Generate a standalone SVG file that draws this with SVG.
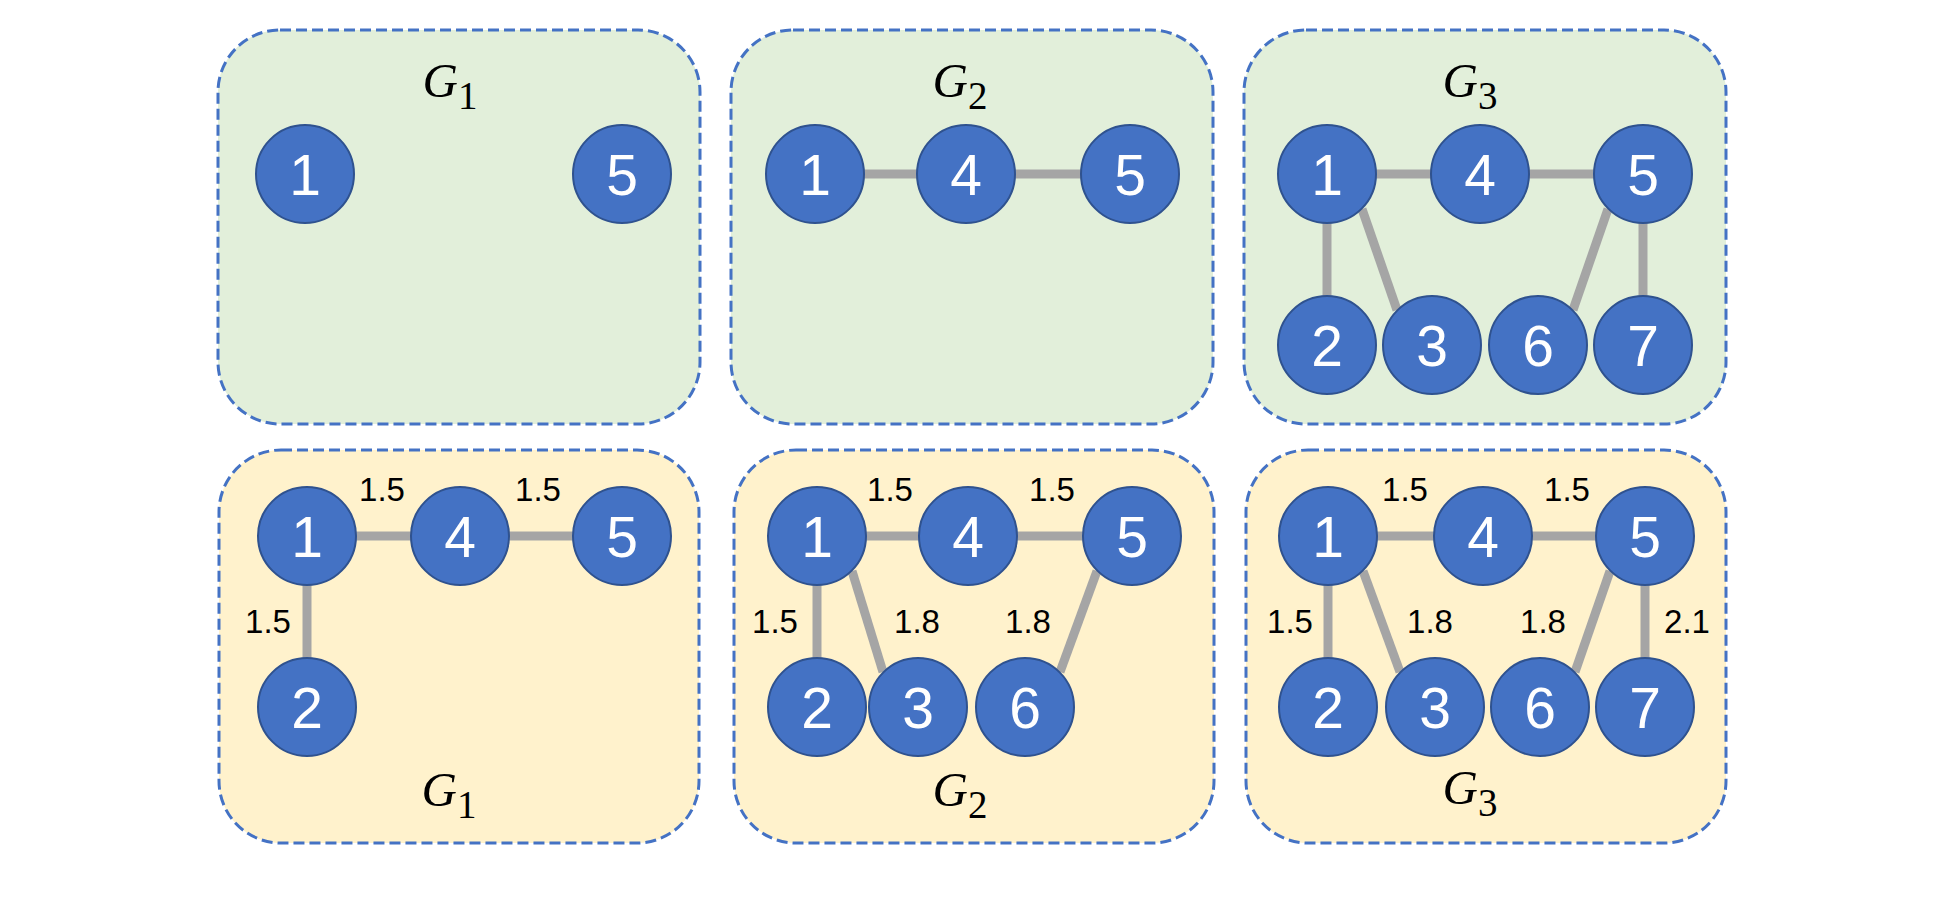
<svg xmlns="http://www.w3.org/2000/svg" width="1956" height="912" viewBox="0 0 1956 912">
<style>
.pg{fill:#E2EFDA;stroke:#4472C4;stroke-width:3;stroke-dasharray:11 5}
.py{fill:#FFF2CC;stroke:#4472C4;stroke-width:3;stroke-dasharray:11 5}
.n circle{fill:#4472C4;stroke:#2F528F;stroke-width:2}
.n text{fill:#FFFFFF;font-family:"Liberation Sans","Open Sans",sans-serif;font-size:57px;text-anchor:middle}
.e line{stroke:#A5A5A5;stroke-width:9}
.w{fill:#000;font-family:"Liberation Sans","Open Sans",sans-serif;font-size:33px;text-anchor:middle}
.g{fill:#000;font-family:"Liberation Serif","DejaVu Serif",serif;font-size:49px;text-anchor:middle}
.g .s{font-size:39px;font-style:normal}
</style>
<rect width="1956" height="912" fill="#FFFFFF"/>
<!-- panels -->
<g id="panels">
<rect id="panel-top-1" class="pg" x="218" y="30" width="482" height="394" rx="62"/>
<rect id="panel-top-2" class="pg" x="731" y="30" width="482" height="394" rx="62"/>
<rect id="panel-top-3" class="pg" x="1244" y="30" width="482" height="394" rx="62"/>
<rect id="panel-bot-1" class="py" x="219" y="450" width="480" height="393" rx="62"/>
<rect id="panel-bot-2" class="py" x="734" y="450" width="480" height="393" rx="62"/>
<rect id="panel-bot-3" class="py" x="1246" y="450" width="480" height="393" rx="62"/>
</g>
<!-- titles -->
<g id="titles">
<text class="g" x="450" y="97"><tspan font-style="italic">G</tspan><tspan class="s" dy="12">1</tspan></text>
<text class="g" x="960" y="97"><tspan font-style="italic">G</tspan><tspan class="s" dy="12">2</tspan></text>
<text class="g" x="1470" y="97"><tspan font-style="italic">G</tspan><tspan class="s" dy="12">3</tspan></text>
<text class="g" x="449" y="806"><tspan font-style="italic">G</tspan><tspan class="s" dy="12">1</tspan></text>
<text class="g" x="960" y="806"><tspan font-style="italic">G</tspan><tspan class="s" dy="12">2</tspan></text>
<text class="g" x="1470" y="804"><tspan font-style="italic">G</tspan><tspan class="s" dy="12">3</tspan></text>
</g>
<!-- connectors -->
<g id="connectors" class="e">
<line x1="815" y1="174" x2="966" y2="174"/>
<line x1="966" y1="174" x2="1130" y2="174"/>
<line x1="1327" y1="174" x2="1480" y2="174"/>
<line x1="1480" y1="174" x2="1643" y2="174"/>
<line x1="1327" y1="174" x2="1327" y2="345"/>
<line x1="1362" y1="209" x2="1397" y2="310"/>
<line x1="1608" y1="209" x2="1573" y2="310"/>
<line x1="1643" y1="174" x2="1643" y2="345"/>
<line x1="307" y1="536" x2="460" y2="536"/>
<line x1="460" y1="536" x2="622" y2="536"/>
<line x1="307" y1="536" x2="307" y2="707"/>
<line x1="817" y1="536" x2="968" y2="536"/>
<line x1="968" y1="536" x2="1132" y2="536"/>
<line x1="817" y1="536" x2="817" y2="707"/>
<line x1="852" y1="571" x2="883" y2="672"/>
<line x1="1097" y1="571" x2="1060" y2="672"/>
<line x1="1328" y1="536" x2="1483" y2="536"/>
<line x1="1483" y1="536" x2="1645" y2="536"/>
<line x1="1328" y1="536" x2="1328" y2="707"/>
<line x1="1363" y1="571" x2="1400" y2="672"/>
<line x1="1610" y1="571" x2="1575" y2="672"/>
<line x1="1645" y1="536" x2="1645" y2="707"/>
</g>
<!-- edge weights -->
<g id="weights">
<text class="w" x="382" y="501">1.5</text>
<text class="w" x="538" y="501">1.5</text>
<text class="w" x="268" y="633">1.5</text>
<text class="w" x="890" y="501">1.5</text>
<text class="w" x="1052" y="501">1.5</text>
<text class="w" x="775" y="633">1.5</text>
<text class="w" x="917" y="633">1.8</text>
<text class="w" x="1028" y="633">1.8</text>
<text class="w" x="1405" y="501">1.5</text>
<text class="w" x="1567" y="501">1.5</text>
<text class="w" x="1290" y="633">1.5</text>
<text class="w" x="1430" y="633">1.8</text>
<text class="w" x="1543" y="633">1.8</text>
<text class="w" x="1687" y="633">2.1</text>
</g>
<!-- nodes: top row -->
<g id="t1-n1" class="n"><circle cx="305" cy="174" r="49"/><text x="305" y="195">1</text></g>
<g id="t1-n5" class="n"><circle cx="622" cy="174" r="49"/><text x="622" y="195">5</text></g>
<g id="t2-n1" class="n"><circle cx="815" cy="174" r="49"/><text x="815" y="195">1</text></g>
<g id="t2-n4" class="n"><circle cx="966" cy="174" r="49"/><text x="966" y="195">4</text></g>
<g id="t2-n5" class="n"><circle cx="1130" cy="174" r="49"/><text x="1130" y="195">5</text></g>
<g id="t3-n1" class="n"><circle cx="1327" cy="174" r="49"/><text x="1327" y="195">1</text></g>
<g id="t3-n4" class="n"><circle cx="1480" cy="174" r="49"/><text x="1480" y="195">4</text></g>
<g id="t3-n5" class="n"><circle cx="1643" cy="174" r="49"/><text x="1643" y="195">5</text></g>
<g id="t3-n2" class="n"><circle cx="1327" cy="345" r="49"/><text x="1327" y="366">2</text></g>
<g id="t3-n3" class="n"><circle cx="1432" cy="345" r="49"/><text x="1432" y="366">3</text></g>
<g id="t3-n6" class="n"><circle cx="1538" cy="345" r="49"/><text x="1538" y="366">6</text></g>
<g id="t3-n7" class="n"><circle cx="1643" cy="345" r="49"/><text x="1643" y="366">7</text></g>
<!-- nodes: bottom row -->
<g id="b1-n1" class="n"><circle cx="307" cy="536" r="49"/><text x="307" y="557">1</text></g>
<g id="b1-n4" class="n"><circle cx="460" cy="536" r="49"/><text x="460" y="557">4</text></g>
<g id="b1-n5" class="n"><circle cx="622" cy="536" r="49"/><text x="622" y="557">5</text></g>
<g id="b1-n2" class="n"><circle cx="307" cy="707" r="49"/><text x="307" y="728">2</text></g>
<g id="b2-n1" class="n"><circle cx="817" cy="536" r="49"/><text x="817" y="557">1</text></g>
<g id="b2-n4" class="n"><circle cx="968" cy="536" r="49"/><text x="968" y="557">4</text></g>
<g id="b2-n5" class="n"><circle cx="1132" cy="536" r="49"/><text x="1132" y="557">5</text></g>
<g id="b2-n2" class="n"><circle cx="817" cy="707" r="49"/><text x="817" y="728">2</text></g>
<g id="b2-n3" class="n"><circle cx="918" cy="707" r="49"/><text x="918" y="728">3</text></g>
<g id="b2-n6" class="n"><circle cx="1025" cy="707" r="49"/><text x="1025" y="728">6</text></g>
<g id="b3-n1" class="n"><circle cx="1328" cy="536" r="49"/><text x="1328" y="557">1</text></g>
<g id="b3-n4" class="n"><circle cx="1483" cy="536" r="49"/><text x="1483" y="557">4</text></g>
<g id="b3-n5" class="n"><circle cx="1645" cy="536" r="49"/><text x="1645" y="557">5</text></g>
<g id="b3-n2" class="n"><circle cx="1328" cy="707" r="49"/><text x="1328" y="728">2</text></g>
<g id="b3-n3" class="n"><circle cx="1435" cy="707" r="49"/><text x="1435" y="728">3</text></g>
<g id="b3-n6" class="n"><circle cx="1540" cy="707" r="49"/><text x="1540" y="728">6</text></g>
<g id="b3-n7" class="n"><circle cx="1645" cy="707" r="49"/><text x="1645" y="728">7</text></g>
</svg>
